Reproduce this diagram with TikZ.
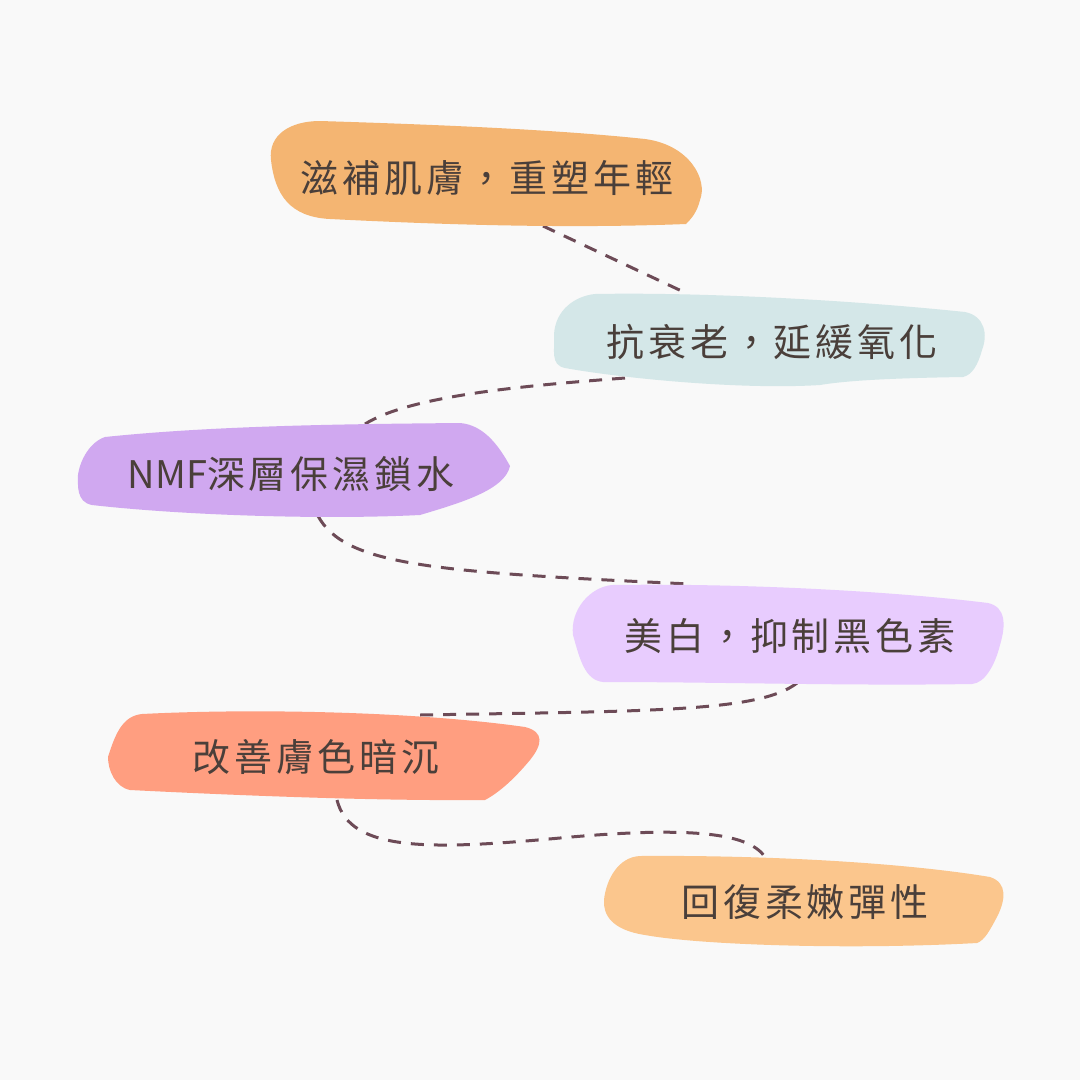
\documentclass[tikz,border=0pt]{standalone}
\usepackage{fontspec}
\newfontfamily\cjk[LetterSpace=10]{Noto Sans CJK TC}
\newfontfamily\cjktight{Noto Sans CJK TC}
\definecolor{bgcol}{HTML}{F9F9F9}
\definecolor{inkcol}{HTML}{4A3F3A}
\definecolor{dashcol}{HTML}{6D4B57}
\definecolor{blobA}{HTML}{F4B572}
\definecolor{blobB}{HTML}{D4E7E8}
\definecolor{blobC}{HTML}{D0A8F0}
\definecolor{blobD}{HTML}{E8CCFE}
\definecolor{blobE}{HTML}{FF9E80}
\definecolor{blobF}{HTML}{FBC68D}
\tikzset{
  label/.style={text=inkcol, font=\cjk\fontsize{38}{42}\selectfont, inner sep=0pt},
  link/.style={draw=dashcol, line width=3pt, dash pattern=on 13pt off 10pt}
}
\begin{document}
\begin{tikzpicture}[x=1pt,y=-1pt]
            \fill[bgcol] (0,0) rectangle (1080,1080);
            \useasboundingbox (0,0) rectangle (1080,1080);
            % connector ends
            \coordinate (a1) at (543,226);
            \coordinate (b1) at (688,294);
            \coordinate (b2) at (625,378);
            \coordinate (c1) at (365,424);
            \coordinate (c2) at (318,516);
            \coordinate (d1) at (690,584);
            \coordinate (d2) at (797,683);
            \coordinate (e1) at (420,715);
            \coordinate (e2) at (337,800);
            \coordinate (f1) at (765,857);
            \draw[link] (a1) -- (b1);
            \draw[link] (b2) .. controls (520,386) and (410,396) .. (c1);
            \draw[link] (c2) .. controls (345,565) and (430,572) .. (d1);
            \draw[link] (d2) .. controls (760,712) and (650,711) .. (e1);
            \draw[link] (e2) .. controls (350,852) and (430,850) .. (560,838) .. controls (700,825) and (750,835) .. (f1);
            % blobs
            \fill[blobA] (320,121) .. controls (450,125) and (560,130) .. (645,139) .. controls (690,145) and (708,180) .. (700,200) .. controls (697,212) and (692,218) .. (686,224) .. controls (560,229) and (430,224) .. (330,219) .. controls (290,217) and (275,195) .. (271,160) .. controls (268,135) and (290,121) .. (320,121) -- cycle;
            \fill[blobB] (595,294) .. controls (700,292) and (850,300) .. (965,312) .. controls (985,316) and (988,335) .. (982,350) .. controls (978,365) and (972,375) .. (963,377) .. controls (900,378) and (850,380) .. (820,385) .. controls (740,390) and (620,378) .. (565,368) .. controls (550,365) and (555,350) .. (554,335) .. controls (555,310) and (575,296) .. (595,294) -- cycle;
            \fill[blobC] (105,437) .. controls (220,425) and (360,424) .. (460,423) .. controls (485,425) and (500,448) .. (510,466) .. controls (505,490) and (460,503) .. (420,515) .. controls (320,520) and (180,515) .. (92,505) .. controls (76,502) and (78,485) .. (78,475) .. controls (80,460) and (90,442) .. (105,437) -- cycle;
            \fill[blobD] (612,585) .. controls (750,583) and (900,592) .. (988,603) .. controls (1006,607) and (1006,625) .. (1000,645) .. controls (995,665) and (985,683) .. (972,684) .. controls (850,686) and (720,682) .. (603,682) .. controls (585,680) and (580,660) .. (573,635) .. controls (570,610) and (590,587) .. (612,585) -- cycle;
            \fill[blobE] (142,714) .. controls (260,708) and (420,712) .. (525,727) .. controls (545,732) and (542,745) .. (530,760) .. controls (515,778) and (500,792) .. (485,800) .. controls (370,801) and (230,795) .. (130,790) .. controls (115,787) and (108,770) .. (108,757) .. controls (115,735) and (122,716) .. (142,714) -- cycle;
            \fill[blobF] (640,856) .. controls (760,855) and (900,862) .. (990,877) .. controls (1008,883) and (1005,900) .. (998,915) .. controls (990,930) and (985,940) .. (977,943) .. controls (850,950) and (700,945) .. (645,935) .. controls (612,930) and (603,915) .. (604,900) .. controls (606,880) and (618,857) .. (640,856) -- cycle;
            % labels
            \node[label] (t1) at (487,178) {滋補肌膚，重塑年輕};
            \node[label] (t2) at (772,342) {抗衰老，延緩氧化};
            \node[label] (t3) at (291,474) {{\cjktight NMF}深層保濕鎖水};
            \node[label] (t4) at (790,636) {美白，抑制黑色素};
            \node[label] (t5) at (316,757) {改善膚色暗沉};
            \node[label] (t6) at (805,902) {回復柔嫩彈性};
        \end{tikzpicture}
\end{document}
